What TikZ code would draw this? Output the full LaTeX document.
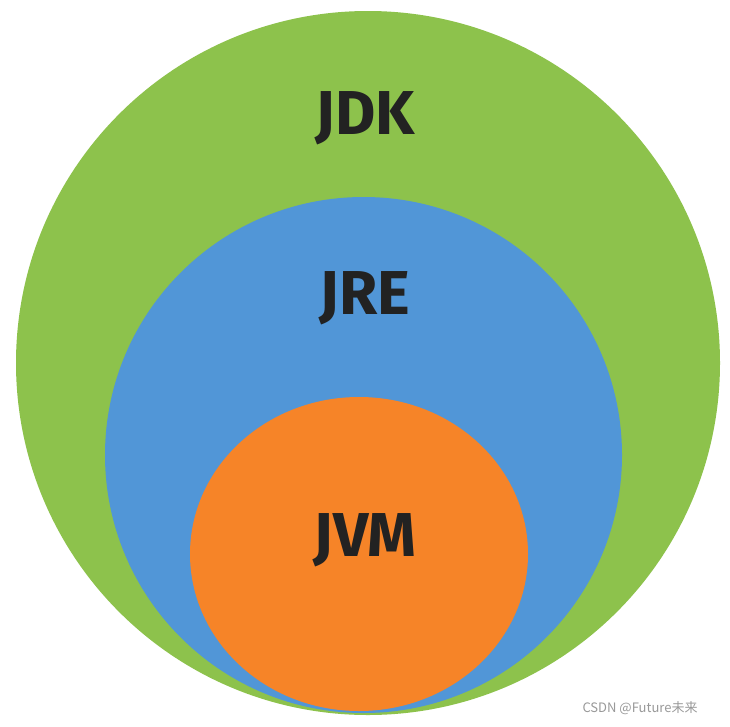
\documentclass[tikz,border=0pt]{standalone}
\usepackage{fontspec}
\newfontfamily\heavy{Fira Sans}
\newfontfamily\cjk{Noto Sans CJK SC}
\definecolor{jdkgreen}{HTML}{8DC24C}
\definecolor{jreblue}{HTML}{5196D7}
\definecolor{jvmorange}{HTML}{F68428}
\definecolor{txt}{HTML}{222222}
\tikzset{lbl/.style={font=\heavy\bfseries\fontsize{62}{66}\selectfont, text=txt, inner sep=0pt}}
\begin{document}
\begin{tikzpicture}[x=1pt,y=-1pt]
\useasboundingbox[fill=white] (0,0) rectangle (730,726);
\fill[jdkgreen] (368,363) ellipse[x radius=352, y radius=352];
\fill[jreblue] (363.5,455) ellipse[x radius=258.5, y radius=258];
\fill[jvmorange] (359,554) ellipse[x radius=169, y radius=157];
\node[lbl] (jdk) at (365,118) {JDK};
\node[lbl] (jre) at (365,298) {JRE};
\node[lbl] (jvm) at (365,540) {JVM};
\node[font=\cjk\fontsize{13}{15}\selectfont, text=gray!80, inner sep=0pt] (wm) at (640,708) {CSDN @Future未来};
\end{tikzpicture}
\end{document}
